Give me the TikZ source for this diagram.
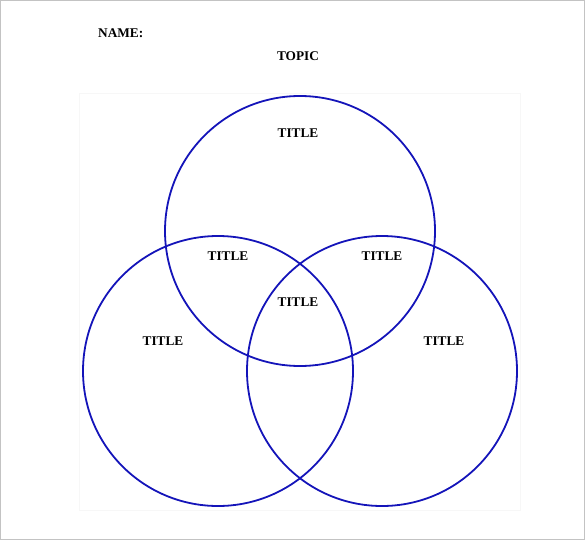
\documentclass[tikz,border=0pt]{standalone}
\usepackage{fontspec}
\setmainfont{Liberation Serif}
\usepackage{xcolor}
\usepackage{tikz}
\definecolor{ringblue}{RGB}{20,20,185}
\definecolor{framegray}{RGB}{195,195,195}

\begin{document}
\begin{tikzpicture}[x=1pt,y=-1pt,
                    ring/.style={draw=ringblue,line width=1.8pt},
                    lbl/.style={font=\fontsize{13.3}{15}\selectfont\bfseries,inner sep=0pt}]
                % Page frame
                \useasboundingbox (0,0) rectangle (585,540);
                \draw[framegray,line width=1pt] (0.5,0.5) rectangle (584,539);
                \draw[black!3,line width=0.5pt] (79,93) rectangle (520,510);
                % Header
                \node[lbl,anchor=west] (name) at (98,33.5) {NAME:};
                \node[lbl] (topic) at (298,56.5) {TOPIC};
                % Three circles
                \draw[ring] (300,231) circle(135);
                \draw[ring] (218,371) circle(135);
                \draw[ring] (382,371) circle(135);
                % Region labels
                \node[lbl] (ttop) at (298,133.5) {TITLE};
                \node[lbl] (tleft) at (163,341.5) {TITLE};
                \node[lbl] (tright) at (444,341.5) {TITLE};
                \node[lbl] (tlt) at (228,256.5) {TITLE};
                \node[lbl] (trt) at (382,256.5) {TITLE};
                \node[lbl] (tmid) at (298,302.5) {TITLE};
            \end{tikzpicture}
\end{document}
